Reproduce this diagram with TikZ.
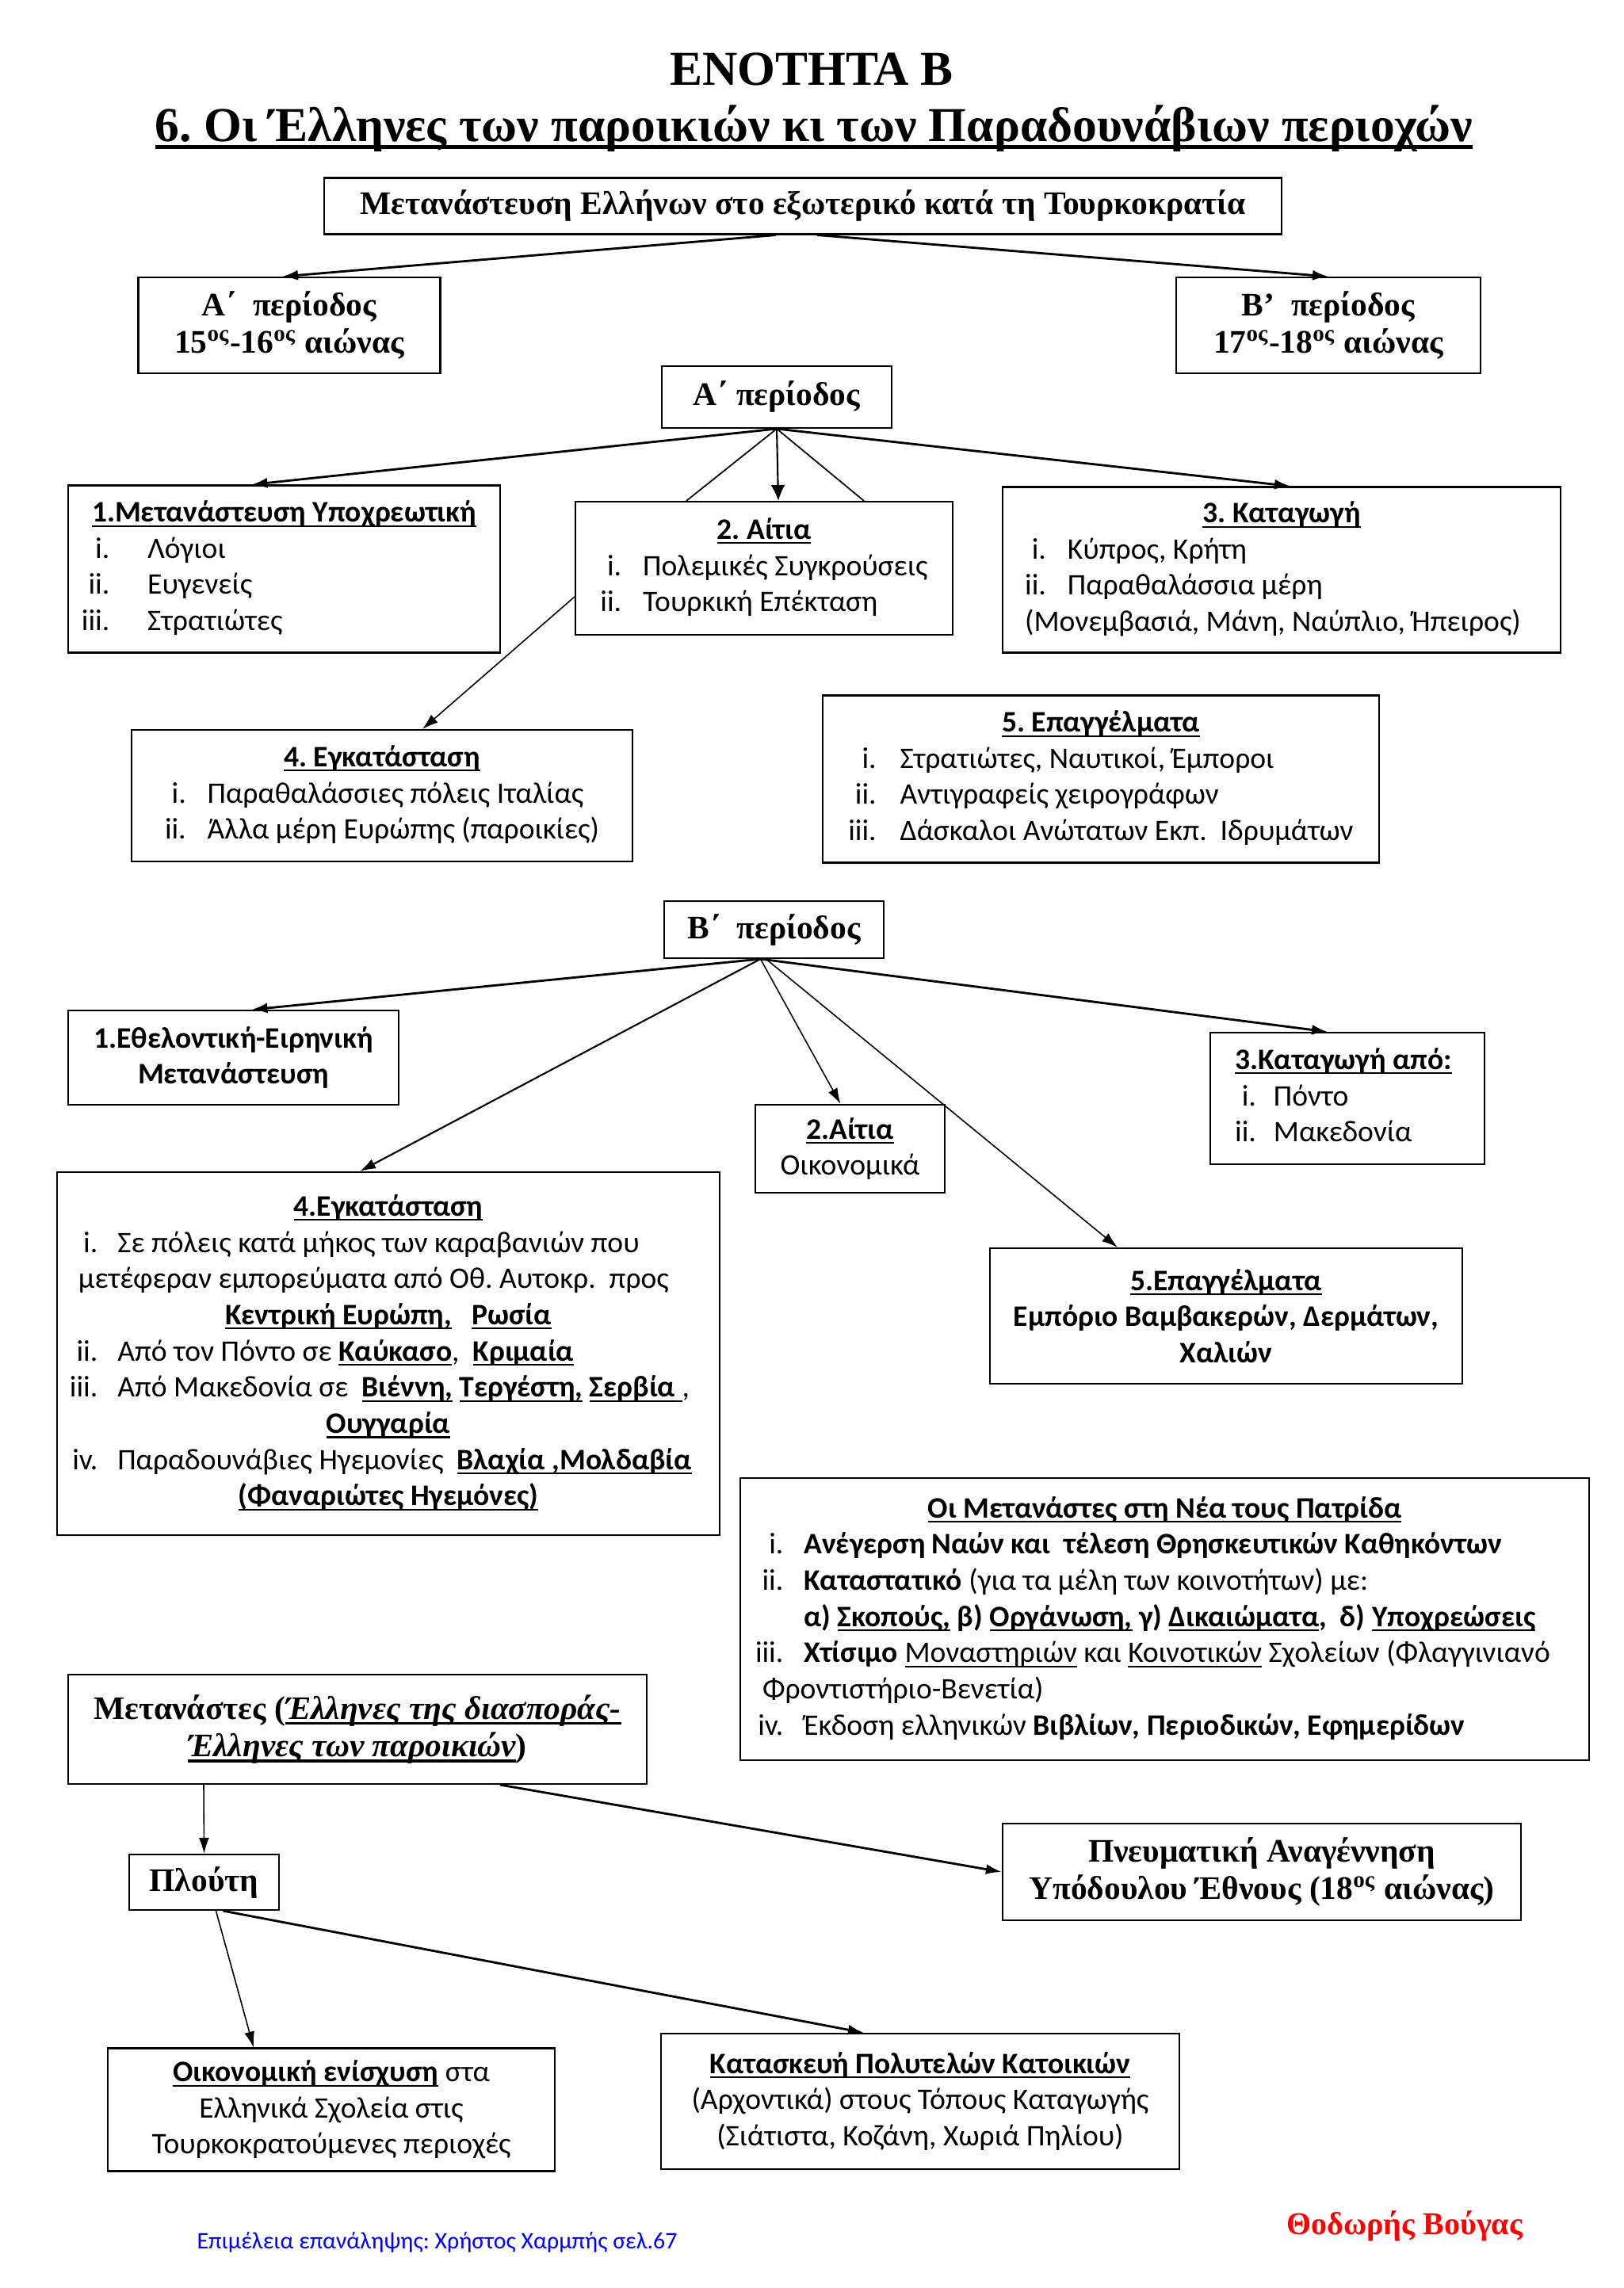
\documentclass[tikz,border=0pt]{standalone}
\usepackage{fontspec}
\setmainfont{Liberation Serif}
\setsansfont{Carlito}
\usepackage{xcolor}
\usepackage{tikz}
\usetikzlibrary{calc}
\usetikzlibrary{arrows.meta}
\usetikzlibrary{backgrounds}
\frenchspacing
\newlength{\ulwd}
\setlength{\ulwd}{0.6pt}
\newsavebox{\ulbox}
\newcommand{\uln}[1]{\leavevmode\sbox{\ulbox}{#1}\rlap{\rule[-0.16em]{\wd\ulbox}{\ulwd}}\usebox{\ulbox}}
\tikzstyle{sansbox}=[draw=black, line width=0.6pt, shape=rectangle, fill=white, inner sep=0pt, align=center, font=\sffamily\fontsize{10.7}{13}\selectfont]
\tikzstyle{serifbox}=[draw=black, line width=0.6pt, shape=rectangle, fill=white, inner sep=0pt, align=center, font=\rmfamily\bfseries\fontsize{11.8}{13.6}\selectfont]

\begin{document}
\begin{tikzpicture}
\fill[white] (0,0) rectangle (20.48,-28.87);
\useasboundingbox (0,0) rectangle (20.48,-28.87);

\node [font=\rmfamily\bfseries\fontsize{17.5}{20}\selectfont] (title1) at (10.24,-0.87) {ΕΝΟΤΗΤΑ Β};
\node [font=\rmfamily\bfseries\fontsize{17.5}{20}\selectfont] (title2) at (10.27,-1.62) {\setlength{\ulwd}{1.6pt}\uln{6. Οι Έλληνες των παροικιών κι των Παραδουνάβιων περιοχών}};

\node [serifbox, minimum width=12.08cm, minimum height=0.71cm] (top) at (10.13,-2.60) {Μετανάστευση Ελλήνων στο εξωτερικό κατά τη Τουρκοκρατία};
\node [serifbox, minimum width=3.81cm, minimum height=1.21cm] (aleft) at (3.65,-4.105) {Α΄~~περίοδος\\15\textsuperscript{ος}-16\textsuperscript{ος} αιώνας};
\node [serifbox, minimum width=3.84cm, minimum height=1.21cm] (bright) at (16.76,-4.105) {Β’~~περίοδος\\17\textsuperscript{ος}-18\textsuperscript{ος} αιώνας};

% A period
\node [serifbox, minimum width=2.90cm, minimum height=0.78cm] (amid) at (9.80,-5.01) {Α΄ περίοδος};
\node [sansbox, minimum width=5.45cm, minimum height=2.11cm] (ypoxr) at (3.585,-7.18) {\begin{tabular}{@{\hspace{0.08cm}}r@{\hspace{0.48cm}}l@{}}\multicolumn{2}{c}{\textbf{\uln{1.Μετανάστευση Υποχρεωτική}}}\\ i. & Λόγιοι\\ ii. & Ευγενείς\\ iii. & Στρατιώτες\end{tabular}};
\node [sansbox, minimum width=4.76cm, minimum height=1.68cm] (aitia) at (9.64,-7.17) {\begin{tabular}{@{}r@{\hspace{0.27cm}}l@{}}\multicolumn{2}{@{}c@{}}{\textbf{\uln{2. Αίτια}}}\\ i. & Πολεμικές Συγκρούσεις\\ ii. & Τουρκική Επέκταση\end{tabular}};
\node [sansbox, minimum width=7.04cm, minimum height=2.09cm] (katag) at (16.17,-7.19) {\begin{tabular}{@{}r@{\hspace{0.27cm}}l@{}}\multicolumn{2}{@{}c@{}}{\textbf{\uln{3. Καταγωγή}}}\\ i. & Κύπρος, Κρήτη\\ ii. & Παραθαλάσσια μέρη\\ \multicolumn{2}{@{}l@{}}{(Μονεμβασιά, Μάνη, Ναύπλιο, Ήπειρος)\hspace*{0.22cm}}\end{tabular}};
\node [sansbox, minimum width=6.32cm, minimum height=1.66cm] (egkat) at (4.82,-10.04) {\begin{tabular}{@{}r@{\hspace{0.27cm}}l@{}}\multicolumn{2}{@{}c@{}}{\textbf{\uln{4. Εγκατάσταση}}}\\ i. & Παραθαλάσσιες πόλεις Ιταλίας\\ ii. & Άλλα μέρη Ευρώπης (παροικίες)\end{tabular}};
\node [sansbox, minimum width=7.02cm, minimum height=2.11cm] (epagg) at (13.89,-9.83) {\begin{tabular}{@{}r@{\hspace{0.3cm}}l@{}}\multicolumn{2}{@{}c@{}}{\textbf{\uln{5. Επαγγέλματα}}}\\ i. & Στρατιώτες, Ναυτικοί, Έμποροι\\ ii. & Αντιγραφείς χειρογράφων\\ iii. & Δάσκαλοι Ανώτατων Εκπ.~~Ιδρυμάτων\end{tabular}};

% B period
\node [serifbox, minimum width=2.77cm, minimum height=0.72cm] (bmid) at (9.765,-11.73) {Β΄~~περίοδος};
\node [sansbox, minimum width=4.17cm, minimum height=1.19cm] (ethel) at (2.945,-13.345) {\textbf{1.Εθελοντική-Ειρηνική}\\\textbf{Μετανάστευση}};
\node [sansbox, minimum width=2.39cm, minimum height=1.11cm] (oikaitia) at (10.725,-14.495) {\textbf{\uln{2.Αίτια}}\\Οικονομικά};
\node [sansbox, minimum width=3.46cm, minimum height=1.66cm] (katapo) at (17.00,-13.86) {\begin{tabular}{@{}r@{\hspace{0.22cm}}l@{}}\multicolumn{2}{@{}c@{}}{\textbf{\uln{3.Καταγωγή από:}}\hspace*{0.1cm}}\\ i. & Πόντο\\ ii. & Μακεδονία\end{tabular}};
\node [sansbox, minimum width=8.36cm, minimum height=4.58cm] (bsettle) at (4.90,-17.08) {\begin{tabular}{@{}r@{\hspace{0.25cm}}l@{}}
\multicolumn{2}{@{}c@{}}{\textbf{\uln{4.Εγκατάσταση}}}\\
i. & Σε πόλεις κατά μήκος των καραβανιών που\\
\multicolumn{2}{@{}l@{}}{\hspace{0.11cm}μετέφεραν εμπορεύματα από Οθ. Αυτοκρ.~~προς}\\
\multicolumn{2}{@{}c@{}}{\textbf{\uln{Κεντρική Ευρώπη,}~~~\uln{Ρωσία}}}\\
ii. & Από τον Πόντο σε \textbf{\uln{Καύκασο}},~~\textbf{\uln{Κριμαία}}\\
iii. & Από Μακεδονία σε~~\textbf{\uln{Βιέννη,} \uln{Τεργέστη,} \uln{Σερβία~}},\hspace*{0.22cm}\\
\multicolumn{2}{@{}c@{}}{\textbf{\uln{Ουγγαρία}}}\\
iv. & Παραδουνάβιες Ηγεμονίες~~\textbf{\uln{Βλαχία ,Μολδαβία}}\\
\multicolumn{2}{@{}c@{}}{\textbf{\uln{(Φαναριώτες Ηγεμόνες)}}}
\end{tabular}};
\node [sansbox, minimum width=5.96cm, minimum height=1.71cm] (bjobs) at (15.47,-16.605) {\textbf{\uln{5.Επαγγέλματα}}\\\textbf{Εμπόριο Βαμβακερών, Δερμάτων,}\\\textbf{Χαλιών}};
\node [sansbox, minimum width=10.71cm, minimum height=3.56cm] (patrida) at (14.695,-20.43) {\begin{tabular}{@{}r@{\hspace{0.26cm}}l@{}}
\multicolumn{2}{@{}c@{}}{\textbf{\uln{Οι Μετανάστες στη Νέα τους Πατρίδα}}}\\
i. & \textbf{Ανέγερση Ναών και~~τέλεση Θρησκευτικών Καθηκόντων}\\
ii. & \textbf{Καταστατικό} (για τα μέλη των κοινοτήτων) με:\\
 & \textbf{α) \uln{Σκοπούς,} β) \uln{Οργάνωση,} γ) \uln{Δικαιώματα},~~δ) \uln{Υποχρεώσεις}}\\
iii. & \textbf{Χτίσιμο} \uln{Μοναστηριών} και \uln{Κοινοτικών} Σχολείων (Φλαγγινιανό\hspace*{0.3cm}\\
\multicolumn{2}{@{}l@{}}{\hspace{0.09cm}Φροντιστήριο-Βενετία)}\\
iv. & Έκδοση ελληνικών \textbf{Βιβλίων, Περιοδικών, Εφημερίδων}
\end{tabular}};

% migrants
\node [serifbox, minimum width=7.30cm, minimum height=1.38cm] (metan) at (4.51,-21.82) {\setlength{\ulwd}{0.9pt}Μετανάστες (\textit{\uln{Έλληνες της διασποράς-}}\\\setlength{\ulwd}{0.9pt}\textit{\uln{Έλληνες των παροικιών}})};
\node [serifbox, minimum width=1.89cm, minimum height=0.70cm] (plouti) at (2.575,-23.75) {Πλούτη};
\node [serifbox, minimum width=6.54cm, minimum height=1.22cm] (pneum) at (15.92,-23.62) {Πνευματική Αναγέννηση\\Υπόδουλου Έθνους (18\textsuperscript{ος} αιώνας)};
\node [sansbox, minimum width=5.64cm, minimum height=1.55cm] (oikon) at (4.18,-26.62) {\textbf{\uln{Οικονομική ενίσχυση}} στα\\Ελληνικά Σχολεία στις\\Τουρκοκρατούμενες περιοχές};
\node [sansbox, minimum width=6.54cm, minimum height=1.71cm] (kataskeui) at (11.61,-26.515) {\textbf{\uln{Κατασκευή Πολυτελών Κατοικιών}}\\(Αρχοντικά) στους Τόπους Καταγωγής\\(Σιάτιστα, Κοζάνη, Χωριά Πηλίου)};

\node [font=\sffamily\fontsize{8.5}{10}\selectfont, text=blue] (editor) at (5.515,-28.29) {Επιμέλεια επανάληψης: Χρήστος Χαρμπής σελ.67};
\node [font=\rmfamily\bfseries\fontsize{11.4}{14}\selectfont, text=red] (author) at (17.72,-28.09) {Θοδωρής Βούγας};

\draw[-{Latex[length=0.2cm, width=0.13cm]}, line width=0.8pt] ($(top.south)+(-0.34,0)$) -- ($(aleft.north)+(-0.09,0)$);
\draw[-{Latex[length=0.2cm, width=0.13cm]}, line width=0.8pt] ($(top.south)+(0.18,0)$) -- (bright.north);

\draw[-{Latex[length=0.2cm, width=0.13cm]}, line width=0.8pt] (amid.south) -- ($(ypoxr.north)+(-0.41,0)$);
\draw[-{Latex[length=0.2cm, width=0.13cm]}, line width=0.8pt] (amid.south) -- ($(katag.north)+(0.11,0)$);
\draw[-{Latex[length=0.2cm, width=0.18cm]}, line width=0.6pt] (amid.south) -- ($(aitia.north)+(0.18,0)$);
\draw[line width=0.5pt] (amid.south) -- ($(aitia.north)+(-0.98,0)$);
\draw[line width=0.5pt] (amid.south) -- ($(aitia.north)+(1.26,0)$);
\draw[-{Latex[length=0.2cm, width=0.13cm]}, line width=0.45pt] ($(aitia.west)+(0,-0.36)$) -- ($(egkat.north)+(0.51,0)$);
\begin{scope}[on background layer]
\draw[-{Latex[length=0.2cm, width=0.18cm]}, line width=0.6pt] ($(aitia.east)+(0,-0.10)$) -- ($(epagg.north)+(-0.12,0)$);
\end{scope}

\draw[-{Latex[length=0.2cm, width=0.13cm]}, line width=0.8pt] ($(bmid.south)+(-0.17,0)$) -- ($(ethel.north)+(0.23,0)$);
\draw[-{Latex[length=0.2cm, width=0.13cm]}, line width=0.8pt] ($(bmid.south)+(-0.17,0)$) -- ($(katapo.north)+(-0.25,0)$);
\draw[-{Latex[length=0.2cm, width=0.13cm]}, line width=0.6pt] ($(bmid.south)+(-0.17,0)$) -- ($(bsettle.north)+(-0.36,0)$);
\draw[-{Latex[length=0.2cm, width=0.13cm]}, line width=0.45pt] ($(bmid.south)+(-0.17,0)$) -- ($(oikaitia.north)+(-0.12,0)$);
\draw[-{Latex[length=0.2cm, width=0.13cm]}, line width=0.45pt] ($(bmid.south)+(-0.10,0)$) -- ($(bjobs.north)+(-1.37,0)$);

\draw[-{Latex[length=0.2cm, width=0.13cm]}, line width=0.45pt] ($(metan.south)+(-1.94,0)$) -- (plouti.north);
\draw[-{Latex[length=0.2cm, width=0.13cm]}, line width=0.8pt] ($(metan.south)+(1.80,0)$) -- (pneum.west);
\draw[-{Latex[length=0.2cm, width=0.13cm]}, line width=0.45pt] ($(plouti.south)+(0.15,0)$) -- ($(oikon.north)+(-0.98,0)$);
\draw[-{Latex[length=0.2cm, width=0.13cm]}, line width=0.8pt] ($(plouti.south)+(0.24,0)$) -- ($(kataskeui.north)+(-0.71,0)$);
\end{tikzpicture}
\end{document}
